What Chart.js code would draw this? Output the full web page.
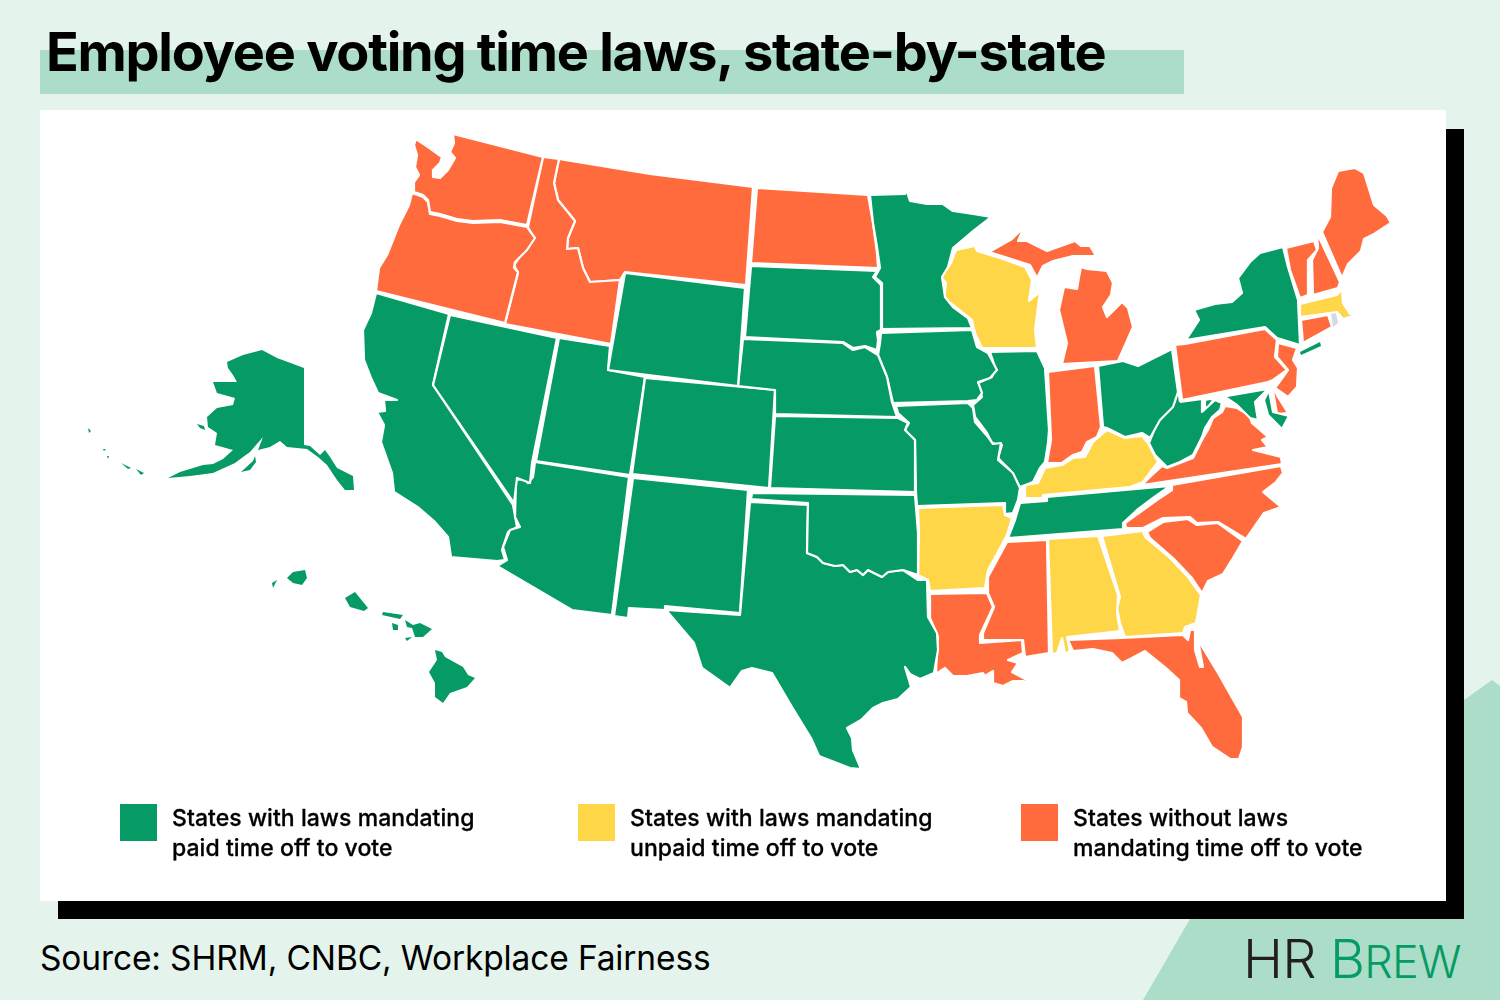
<!DOCTYPE html>
<html>
<head>
<meta charset="utf-8">
<script src="https://cdn.jsdelivr.net/npm/chart.js@4/dist/chart.umd.min.js"></script>
<style>
  html, body { margin: 0; padding: 0; }
  body { width: 1500px; height: 1000px; position: relative; overflow: hidden; background: #e4f4ec; font-family: Inter, sans-serif; color: #000; }
  .abs { position: absolute; }
  #corner { left: 0; top: 0; width: 1500px; height: 1000px; background: #abddc9; clip-path: polygon(1143px 1000px, 1190px 919px, 1464px 919px, 1464px 700px, 1492px 680px, 1500px 686px, 1500px 1000px); }
  #band { left: 40px; top: 50px; width: 1144px; height: 44px; background: #abddc9; }
  #title { left: 46px; top: 19px; font-size: 54px; line-height: 66px; font-weight: 700; white-space: nowrap; letter-spacing: -1.26px; }
  #shadow { left: 58px; top: 129px; width: 1406px; height: 790px; background: #000; }
  #card { left: 40px; top: 110px; width: 1406px; height: 791px; background: #fff; }
  #map { left: 40px; top: 110px; }
  .swatch { top: 804px; width: 37px; height: 37px; }
  .label { top: 803px; font-size: 23px; line-height: 30px; font-weight: 500; white-space: nowrap; letter-spacing: 0.06px; -webkit-text-stroke: 0.3px #000; }
  #source { left: 40px; top: 936px; font-size: 33.5px; line-height: 44px; white-space: nowrap; letter-spacing: -0.14px; }
  #logo { left: 1243px; top: 926px; font-size: 54px; line-height: 66px; font-weight: 300; white-space: nowrap; color: #231f20; letter-spacing: -0.8px; }
  #logo span { color: #069b65; }
  #logo small { font-size: 45px; }
</style>
</head>
<body>
<div class="abs" id="corner"></div>
<div class="abs" id="band"></div>
<div class="abs" id="title">Employee voting time laws, state-by-state</div>
<div class="abs" id="shadow"></div>
<div class="abs" id="card"></div>
<canvas class="abs" id="map" width="1406" height="791"></canvas>
<div class="abs swatch" style="left:120px;background:#069b65"></div>
<div class="abs label" style="left:172px">States with laws mandating<br>paid time off to vote</div>
<div class="abs swatch" style="left:578px;background:#ffd647"></div>
<div class="abs label" style="left:630px">States with laws mandating<br>unpaid time off to vote</div>
<div class="abs swatch" style="left:1021px;background:#ff6b3d"></div>
<div class="abs label" style="left:1073px">States without laws<br>mandating time off to vote</div>
<div class="abs" id="source">Source: SHRM, CNBC, Workplace Fairness</div>
<div class="abs" id="logo">HR <span>B<small>REW</small></span></div>

<script>
// state outlines, as x,y pairs on the map scale
const WA = [453,134,543,157,527,225,500,220,473,221,457,219,440,214,430,212,428,200,423,195,414,192,414,182,419,175,415,167,417,155,414,145,416,139,428,147,442,157,440,163,433,170,433,177,440,178,448,170,455,158,450,152,454,143];
const OR = [412,193,423,197,428,202,430,214,440,216,457,221,473,223,500,222,527,227,535,238,527,250,515,262,514,268,518,272,505,323,376,291,379,268,387,255,399,225,409,205];
const ID = [543,157,559,159,554,183,558,200,575,221,568,238,567,249,578,248,583,268,590,282,620,280,611,344,505,324,518,273,514,265,533,238,528,227];
const MT = [559,159,650,174,753,187,746,285,625,272,620,280,590,282,583,268,578,248,567,249,568,238,575,221,558,200,554,183];
const ND = [757,188,868,195,873,223,877,253,878,268,751,263];
const SD = [751,266,877,271,873,277,881,285,881,330,877,332,878,340,877,350,865,346,853,348,843,342,745,337];
const WY = [625,273,745,288,738,386,608,370];
const NE = [743,339,843,343,853,350,865,347,878,355,887,377,892,402,897,417,775,414,775,390,738,386];
const MN = [870,195,905,194,905,186,910,201,927,204,943,204,953,211,973,214,991,217,973,231,953,248,948,267,942,277,945,297,953,307,968,318,972,328,882,329,882,283,875,277,880,268,877,247,873,223];
const WI = [956,250,975,246,977,251,1003,259,1025,267,1032,280,1029,301,1040,292,1035,330,1037,348,982,348,975,333,972,320,957,308,944,298,946,283,941,277,951,263];
const MI_UPPER = [989,252,1012,239,1024,227,1018,241,1027,241,1047,251,1075,241,1081,246,1090,246,1096,256,1073,256,1053,261,1043,266,1037,278,1030,265,1005,257];
const MI_LOWER = [1081,267,1087,269,1107,271,1113,283,1111,295,1103,307,1107,317,1122,302,1128,308,1133,327,1126,343,1118,361,1062,364,1067,343,1059,310,1064,287,1077,289,1079,277];
const IA = [881,333,972,330,977,347,988,353,997,370,990,378,978,382,982,393,977,400,968,401,893,403,887,377,878,355,880,343];
const KS = [775,416,898,418,908,423,905,430,915,440,915,492,770,488];
const MO = [896,406,968,403,973,408,975,422,988,437,993,444,1001,443,998,460,1013,473,1020,488,1018,500,1013,513,1005,514,1005,503,917,506,916,492,915,440,905,430,909,423,898,413];
const IL = [990,352,1037,351,1045,368,1049,430,1048,443,1045,462,1040,468,1033,482,1020,487,1010,470,998,458,1002,445,992,443,987,433,975,417,973,405,982,397,978,383,992,377,995,367];
const IN = [1048,372,1095,366,1101,427,1097,437,1087,442,1082,452,1073,455,1062,463,1047,463,1051,440];
const OH = [1098,366,1123,361,1138,366,1172,349,1178,392,1173,407,1160,420,1150,438,1142,433,1125,437,1107,428,1103,427];
const KY = [1025,485,1038,483,1045,468,1062,465,1073,458,1085,457,1093,442,1107,430,1125,438,1142,436,1148,443,1158,462,1143,482,1130,487,1043,495,1043,498,1025,498];
const WV = [1180,402,1202,399,1202,412,1215,400,1222,403,1220,410,1212,417,1205,428,1202,437,1193,455,1180,462,1167,467,1155,455,1149,443,1155,428,1163,413,1175,402,1177,382];
const VA = [1225,406,1237,408,1249,415,1252,423,1268,437,1262,440,1268,447,1253,450,1281,457,1282,464,1142,485,1150,477,1162,466,1167,468,1193,458,1203,438,1208,430,1213,418,1222,412];
const VA_SHORE = [1283,430,1286,428,1281,441,1279,440];
const MD = [1205,400,1233,395,1268,389,1255,402,1258,420,1250,418,1237,405,1225,397,1215,397,1205,412];
const MD_SHORE = [1269,390,1273,412,1289,416,1282,429,1268,415,1264,400];
const DE = [1272,385,1278,397,1288,413,1277,414];
const PA = [1175,345,1185,344,1265,329,1277,340,1275,357,1287,370,1273,380,1268,382,1182,400];
const NY = [1186,340,1199,320,1194,310,1215,304,1232,302,1242,293,1238,278,1250,262,1260,253,1283,247,1288,267,1298,300,1300,345,1277,338,1265,327];
const LONG_ISLAND = [1300,352,1320,342,1321,346,1301,355];
const VT = [1286,248,1314,241,1317,250,1308,260,1308,295,1300,298,1290,270];
const NH = [1317,233,1340,282,1338,288,1313,295,1312,260,1318,248];
const ME = [1322,232,1330,217,1331,188,1338,171,1355,168,1364,173,1374,205,1387,216,1391,223,1374,234,1364,239,1361,251,1348,264,1342,278];
const MA = [1300,304,1337,295,1342,289,1343,303,1350,314,1356,315,1343,319,1337,312,1300,317];
const CT = [1301,320,1328,315,1332,327,1303,343];
const RI = [1331,313,1336,313,1338,323,1333,327];
const NJ = [1278,343,1297,348,1293,360,1298,368,1297,387,1288,397,1275,388,1288,370,1277,357];
const NC = [1172,485,1281,466,1283,473,1276,482,1263,492,1281,507,1264,513,1246,539,1218,522,1197,523,1190,517,1163,518,1143,528,1126,528,1125,523,1143,510,1157,500,1172,490];
const TN = [1020,503,1047,501,1047,497,1170,486,1153,498,1137,510,1123,523,1123,529,1008,538,1015,520];
const AR = [918,508,1003,505,1005,515,1012,518,1007,535,998,552,988,570,985,588,930,591,928,580,918,575,919,533];
const LA = [930,594,987,593,993,607,980,635,980,643,1022,640,1023,653,1008,660,1018,663,1012,672,1038,686,1023,681,1013,681,1003,686,993,683,993,671,985,676,983,673,967,676,953,676,945,668,936,674,937,650,938,637,930,618];
const MS = [1007,542,1047,540,1049,653,1025,657,1023,640,983,640,983,633,994,607,988,593,988,577];
const AL = [1048,539,1098,536,1118,595,1117,613,1120,631,1067,637,1070,651,1065,654,1062,638,1057,653,1052,654];
const GA = [1102,536,1143,531,1145,537,1170,558,1188,577,1201,595,1196,623,1185,627,1183,633,1125,637,1120,623,1117,608,1120,597];
const SC = [1147,532,1163,522,1188,519,1197,525,1218,523,1243,541,1233,558,1223,574,1208,581,1202,593,1192,578,1173,558,1150,538];
const FL = [1068,640,1122,638,1183,635,1188,640,1190,630,1195,630,1195,650,1200,667,1203,667,1198,640,1218,673,1243,717,1243,747,1239,759,1230,759,1212,747,1201,728,1187,713,1186,702,1179,698,1179,680,1166,668,1145,651,1132,658,1122,663,1112,653,1093,649,1073,651];
const TX = [750,502,808,505,807,553,817,557,823,563,835,566,843,565,850,572,857,570,863,575,868,570,882,577,888,572,903,570,918,580,927,580,928,617,937,633,938,650,934,673,920,679,910,674,905,667,911,687,898,699,883,703,873,708,861,720,847,728,852,738,853,750,861,769,850,768,819,756,811,738,792,707,772,673,752,668,742,671,730,688,702,668,694,643,666,610,740,615];
const OK = [752,493,915,495,918,533,918,575,903,570,888,572,882,577,868,570,863,575,857,570,850,572,843,565,835,566,823,563,817,557,807,553,808,503,751,499];
const NM = [633,478,748,490,740,613,665,606,665,610,629,608,628,618,614,616];
const CO = [645,378,775,390,769,488,632,474];
const UT = [559,338,610,346,608,370,645,377,630,475,536,461];
const NV = [450,315,557,338,532,463,530,483,517,478,514,503,433,385];
const AZ = [535,462,629,477,612,615,572,610,497,566,507,560,503,547,510,530,520,527,515,517,516,480,525,479,528,483,533,477];
const CA = [376,293,449,314,433,385,513,505,517,527,508,532,502,550,505,560,497,561,451,557,448,537,434,521,419,508,394,492,392,473,381,442,384,425,377,412,385,411,384,400,397,400,378,393,371,378,364,360,363,330,371,313];
const AK = [227,362,243,355,262,350,277,358,304,368,304,445,310,446,320,455,325,450,330,457,337,468,353,476,354,490,345,490,337,480,327,465,318,457,307,449,287,447,280,441,270,447,258,450,263,437,250,452,243,457,235,463,213,473,190,476,168,478,180,472,203,465,213,464,223,459,233,450,215,445,217,433,208,427,207,417,217,408,233,405,235,398,217,393,213,382,237,382,233,375,228,368];
const KODIAK = [241,472,253,461,255,456,256,462,250,470];
const ST_LAWRENCE = [197,424,204,426,205,430,200,428];
const ALEUTIAN_A = [121,463,131,468,128,469];
const ALEUTIAN_B = [136,469,144,473,141,475];
const ALEUTIAN_C = [103,449,106,449,104,451];
const ALEUTIAN_D = [107,456,109,456,108,459];
const ATTU = [88,428,91,431,89,433];
const HI_BIG = [435,650,442,652,445,657,463,667,468,675,475,678,467,687,450,693,443,703,435,697,435,683,429,672,437,660];
const HI_MAUI = [405,620,413,625,420,623,432,629,423,637,415,637,412,628,407,627];
const HI_MOLOKAI = [383,612,403,615,400,619,382,615];
const HI_LANAI = [392,623,398,625,398,630,393,630];
const HI_KAHOOLAWE = [405,638,412,637,407,641];
const HI_OAHU = [345,598,355,592,368,608,364,611,350,607];
const HI_KAUAI = [287,578,293,572,305,570,307,578,302,585,293,583];
const HI_NIIHAU = [272,583,277,580,273,588];
const AK_CHANNEL_A = [328,462,343,487,341,487,326,463];
const AK_CHANNEL_B = [334,466,347,478,345,479,333,468];

const paidStates = [WY, SD, NE, MN, IA, KS, MO, IL, OH, WV, MD, MD_SHORE, NY, TN, OK, TX, NM, CO, UT, NV, AZ, CA];
const unpaidStates = [WI, KY, MA, AR, AL, GA];
const noLawStates = [WA, OR, ID, MT, ND, MI_UPPER, MI_LOWER, IN, VA, VA_SHORE, DE, PA, VT, NH, ME, CT, NJ, NC, LA, MS, SC, FL];
const greyStates = [RI];
const smallPaid = [AK, LONG_ISLAND, KODIAK, ST_LAWRENCE, ALEUTIAN_A, ALEUTIAN_B, ALEUTIAN_C, ALEUTIAN_D, ATTU, HI_BIG, HI_MAUI, HI_MOLOKAI, HI_LANAI, HI_KAHOOLAWE, HI_OAHU, HI_KAUAI, HI_NIIHAU];
const channels = [AK_CHANNEL_A, AK_CHANNEL_B];

function toPoints(flat) {
  const pts = [];
  for (let i = 0; i < flat.length; i += 2) {
    pts.push({ x: flat[i], y: flat[i + 1] });
  }
  pts.push({ x: flat[0], y: flat[1] });
  return pts;
}

function shapes(list, color, width) {
  return list.map(flat => ({
    data: toPoints(flat),
    showLine: true,
    fill: 'shape',
    backgroundColor: color,
    borderColor: width ? '#ffffff' : color,
    borderWidth: width,
    borderJoinStyle: 'round',
    tension: 0,
    pointRadius: 0
  }));
}

new Chart(document.getElementById('map').getContext('2d'), {
  type: 'scatter',
  data: {
    datasets: [
      ...shapes(paidStates, '#069b65', 2.2),
      ...shapes(unpaidStates, '#ffd647', 2.2),
      ...shapes(noLawStates, '#ff6b3d', 2.2),
      ...shapes(greyStates, '#d6dae0', 0),
      ...shapes(smallPaid, '#069b65', 0),
      ...shapes(channels, '#ffffff', 0)
    ]
  },
  options: {
    responsive: false,
    animation: false,
    layout: { padding: 0 },
    plugins: { legend: { display: false }, tooltip: { enabled: false } },
    scales: {
      x: { type: 'linear', display: false, min: 40, max: 1446 },
      y: { type: 'linear', display: false, min: 110, max: 901, reverse: true }
    }
  }
});
</script>
</body>
</html>
